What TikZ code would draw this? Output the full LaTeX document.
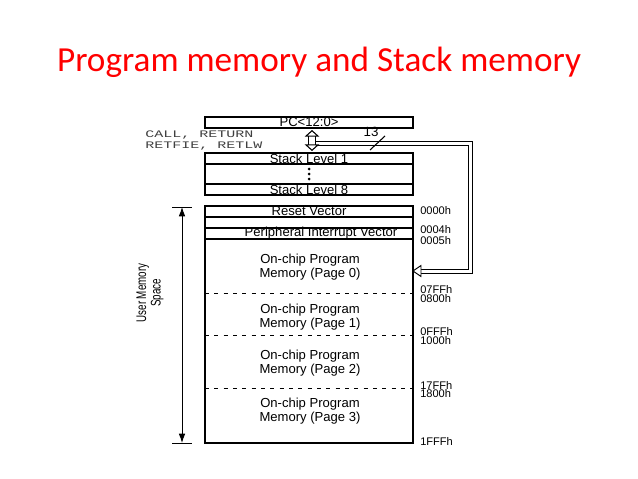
\documentclass[tikz,border=0pt]{standalone}
\usepackage{fontspec}
\setmainfont{Liberation Sans}
\newfontfamily\titlefont{Carlito}
\newfontfamily\ttf{Liberation Mono}
\usetikzlibrary{arrows.meta}
\begin{document}
\begin{tikzpicture}[x=0.75pt,y=-0.75pt,
  box/.style={draw,line width=0.8pt},
  lbl/.style={font=\fontsize{9.8}{10.5}\selectfont,inner sep=0pt,align=center},
  addr/.style={font=\fontsize{8.3}{9}\selectfont,anchor=west,inner sep=0pt},
  dl/.style={dashed,dash pattern=on 3pt off 4pt,line width=0.6pt}]
\useasboundingbox (0,0) rectangle (638,478);
\node[text=red,font=\titlefont\fontsize{26.4}{30}\selectfont] (title) at (319,62) {Program memory and Stack memory};
% PC
\draw[box] (205,117) rectangle (413,128);
\node[lbl] (pc) at (309,122.5) {PC<12:0>};
% stack
\draw[box] (205,153) rectangle (413,195);
\draw[line width=0.8pt] (205,164) -- (413,164) (205,184) -- (413,184);
\node[lbl] (s1) at (309,158.5) {Stack Level 1};
\node[lbl] (s8) at (309,189.5) {Stack Level 8};
\foreach \yy in {169,174,179} \fill (309,\yy) circle (1.5);
% hollow double arrow
\coordinate (a1) at (312,130);
\coordinate (a2) at (312,151);
\draw[double=white,double distance=4pt,line width=0.8pt,{Triangle[open,length=5pt,width=11pt]}-{Triangle[open,length=5pt,width=11pt]}] (a1) -- (a2);
% bus
\coordinate (o0) at (316,141);
\coordinate (o1) at (472,141);
\coordinate (o2) at (472,273);
\coordinate (o3) at (420,273);
\coordinate (i0) at (316,145);
\coordinate (i1) at (468,145);
\coordinate (i2) at (468,269);
\coordinate (i3) at (420,269);
\coordinate (tip) at (413,271);
\draw[line width=0.7pt] (o0) -- (o1) -- (o2) -- (o3) (i0) -- (i1) -- (i2) -- (i3);
\draw[line width=0.7pt,fill=white] (tip) -- (421,265.5) -- (421,276.5) -- cycle;
\draw[line width=0.8pt] (370,150) -- (385,136);
\node[lbl,font=\fontsize{10}{10}\selectfont] (n13) at (371,132) {13};
\node[font=\ttf\fontsize{7.5}{8}\selectfont,align=left,anchor=west,inner sep=0pt,text=black!75,xscale=1.5] (calls) at (145,140.5) {CALL, RETURN\\RETFIE, RETLW};
% memory
\draw[box] (205,206) rectangle (413,443);
\draw[line width=0.8pt] (205,217) -- (413,217) (205,228) -- (413,228) (205,239) -- (413,239);
\node[lbl] (rv) at (309,211.5) {Reset Vector};
\node[lbl] (piv) at (321,233.5) {Peripheral Interrupt Vector};
\draw[dl] (205,293) -- (413,293) (205,335) -- (413,335) (205,388) -- (413,388);
\node[lbl] (p0) at (310,267) {On-chip Program\\Memory (Page 0)};
\node[lbl] (p1) at (310,317) {On-chip Program\\Memory (Page 1)};
\node[lbl] (p2) at (310,363) {On-chip Program\\Memory (Page 2)};
\node[lbl] (p3) at (310,411) {On-chip Program\\Memory (Page 3)};
\node[addr] at (420,211) {0000h};
\node[addr] at (420,230) {0004h};
\node[addr] at (420,241) {0005h};
\node[addr] at (420,290) {07FFh};
\node[addr] at (420,299) {0800h};
\node[addr] at (420,332) {0FFFh};
\node[addr] at (420,341) {1000h};
\node[addr] at (420,385) {17FFh};
\node[addr] at (420,394) {1800h};
\node[addr] at (420,441) {1FFFh};
% user memory space arrow
\coordinate (u1) at (182,207);
\coordinate (u2) at (182,443);
\draw[line width=0.7pt] (172,207) -- (192,207) (172,443) -- (192,443);
\draw[line width=0.7pt,{Latex[length=7pt,width=5pt]}-{Latex[length=7pt,width=5pt]}] (u1) -- (u2);
\node[inner sep=0pt,align=center,rotate=90,font=\fontsize{10.5}{11}\selectfont,xscale=0.7] (ums) at (150,293) {User Memory\\Space};
\end{tikzpicture}
\end{document}
